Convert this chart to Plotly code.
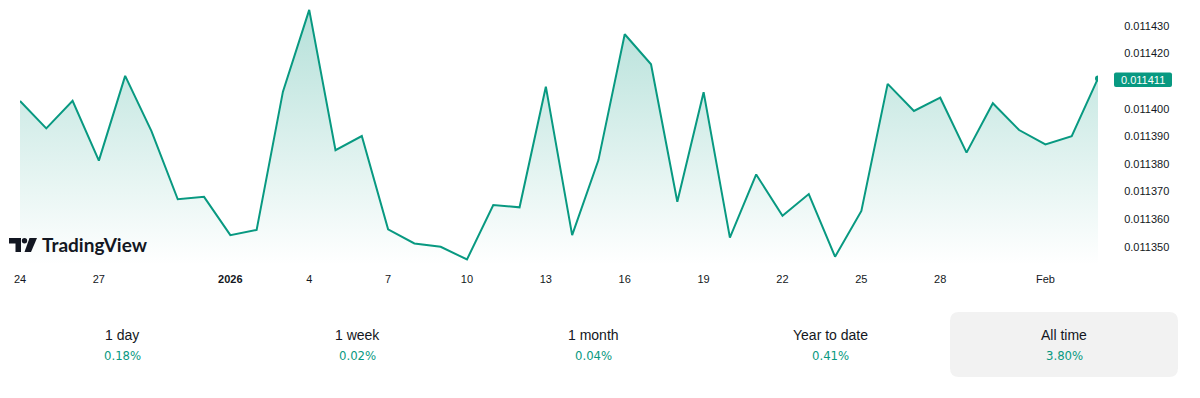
import plotly.graph_objects as go

# ---- data ----
dates = [
    "2025-12-24", "2025-12-25", "2025-12-26", "2025-12-27", "2025-12-28", "2025-12-29",
    "2025-12-30", "2025-12-31", "2026-01-01", "2026-01-02", "2026-01-03", "2026-01-04",
    "2026-01-05", "2026-01-06", "2026-01-07", "2026-01-08", "2026-01-09", "2026-01-10",
    "2026-01-11", "2026-01-12", "2026-01-13", "2026-01-14", "2026-01-15", "2026-01-16",
    "2026-01-17", "2026-01-18", "2026-01-19", "2026-01-20", "2026-01-21", "2026-01-22",
    "2026-01-23", "2026-01-24", "2026-01-25", "2026-01-26", "2026-01-27", "2026-01-28",
    "2026-01-29", "2026-01-30", "2026-01-31", "2026-02-01", "2026-02-02", "2026-02-03",
]
values = [
    0.0114028, 0.0113929, 0.0114029, 0.0113812, 0.0114119, 0.0113919,
    0.0113672, 0.0113681, 0.0113542, 0.0113561, 0.0114062, 0.0114358,
    0.0113850, 0.0113901, 0.0113563, 0.0113512, 0.0113500, 0.0113454,
    0.0113651, 0.0113643, 0.0114080, 0.0113542, 0.0113814, 0.0114270,
    0.0114161, 0.0113663, 0.0114060, 0.0113533, 0.0113762, 0.0113612,
    0.0113691, 0.0113464, 0.0113630, 0.0114090, 0.0113992, 0.0114040,
    0.0113841, 0.0114020, 0.0113923, 0.0113871, 0.0113901, 0.0114110,
]
x_tick_vals = ["2025-12-24", "2025-12-27", "2026-01-01", "2026-01-04", "2026-01-07",
               "2026-01-10", "2026-01-13", "2026-01-16", "2026-01-19", "2026-01-22",
               "2026-01-25", "2026-01-28", "2026-02-01"]
x_tick_text = ["24", "27", "<b>2026</b>", "4", "7", "10", "13", "16", "19", "22",
               "25", "28", "Feb"]
y_tick_vals = [0.011350, 0.011360, 0.011370, 0.011380, 0.011390, 0.011400,
               0.011420, 0.011430]
last_price_label = "0.011411"
stat_labels = ["1 day", "1 week", "1 month", "Year to date", "All time"]
stat_values = ["0.18%", "0.02%", "0.04%", "0.41%", "3.80%"]

# ---- layout helpers (screen pixel -> paper); page body has an 8px margin ----
OFF = 8
W, H = 1200 - OFF, 398 - OFF
def X(px):
    return (px - OFF) / W
def Y(py):
    return 1 - (py - OFF) / H

GREEN = "#089981"
TEXT = "#131722"
# plot area spans screen rows 8..265; range chosen so 0.011350 sits at row ~247
y_lo, y_hi = 0.0113434, 0.0114365

fig = go.Figure()
fig.add_trace(go.Scatter(
    x=dates, y=values, mode="lines",
    line=dict(color=GREEN, width=2),
    fill="tozeroy",
    fillgradient=dict(type="vertical",
                      colorscale=[[0, "rgba(8,153,129,0.0)"], [1, "rgba(8,153,129,0.30)"]],
                      start=y_lo, stop=max(values)),
    hoverinfo="skip", showlegend=False,
))
fig.add_trace(go.Scatter(
    x=[dates[-1]], y=[values[-1]], mode="markers",
    marker=dict(color=GREEN, size=6), hoverinfo="skip", showlegend=False,
))

def rrect(x0, y0, x1, y1, r):
    return (f"M{X(x0+r)},{Y(y0)} L{X(x1-r)},{Y(y0)} Q{X(x1)},{Y(y0)} {X(x1)},{Y(y0+r)} "
            f"L{X(x1)},{Y(y1-r)} Q{X(x1)},{Y(y1)} {X(x1-r)},{Y(y1)} "
            f"L{X(x0+r)},{Y(y1)} Q{X(x0)},{Y(y1)} {X(x0)},{Y(y1-r)} "
            f"L{X(x0)},{Y(y0+r)} Q{X(x0)},{Y(y0)} {X(x0+r)},{Y(y0)} Z")

shapes = []
shapes.append(dict(type="path", xref="paper", yref="paper", path=rrect(950, 312, 1178, 377, 9),
                   fillcolor="#f2f2f2", line=dict(width=0), layer="below"))
shapes.append(dict(type="path", xref="paper", yref="paper", path=rrect(1114, 72.5, 1172, 87, 2),
                   fillcolor=GREEN, line=dict(width=0), layer="above"))
logo_T = (f"M{X(9)},{Y(238)} L{X(21)},{Y(238)} L{X(21)},{Y(252)} L{X(15.5)},{Y(252)} "
          f"L{X(15.5)},{Y(243.5)} L{X(9)},{Y(243.5)} Z")
shapes.append(dict(type="path", xref="paper", yref="paper", path=logo_T,
                   fillcolor=TEXT, line=dict(width=0)))
shapes.append(dict(type="circle", xref="paper", yref="paper",
                   x0=X(21.8), x1=X(27.2), y0=Y(243.4), y1=Y(238),
                   fillcolor=TEXT, line=dict(width=0)))
logo_slash = f"M{X(29.5)},{Y(238)} L{X(37)},{Y(238)} L{X(31)},{Y(252)} L{X(24.5)},{Y(252)} Z"
shapes.append(dict(type="path", xref="paper", yref="paper", path=logo_slash,
                   fillcolor=TEXT, line=dict(width=0)))

annotations = []
annotations.append(dict(xref="paper", yref="paper", x=X(1143), y=Y(80), text=last_price_label,
                        showarrow=False, font=dict(color="white", size=11, family="Liberation Sans"),
                        xanchor="center", yanchor="middle"))
annotations.append(dict(xref="paper", yref="paper", x=X(40), y=Y(245), text="TradingView",
                        showarrow=False, font=dict(color=TEXT, size=19, family="Lato", weight=700),
                        xanchor="left", yanchor="middle"))
stat_x = [122, 357, 593, 830, 1064]
for sx, lab, val in zip(stat_x, stat_labels, stat_values):
    annotations.append(dict(xref="paper", yref="paper", x=X(sx), y=Y(335), text=lab,
                            showarrow=False, font=dict(color=TEXT, size=14, family="Liberation Sans"),
                            xanchor="center", yanchor="middle"))
    annotations.append(dict(xref="paper", yref="paper", x=X(sx), y=Y(355), text=val,
                            showarrow=False, font=dict(color=GREEN, size=13, family="DejaVu Sans Condensed"),
                            xanchor="center", yanchor="middle"))

fig.update_layout(
    width=W, height=H,
    margin=dict(l=0, r=0, t=0, b=0, autoexpand=False),
    paper_bgcolor="white", plot_bgcolor="white",
    xaxis=dict(domain=[X(20), X(1098)], range=[dates[0], dates[-1]],
               tickvals=x_tick_vals, ticktext=x_tick_text, automargin=False,
               showgrid=False, zeroline=False, showline=False,
               ticks="outside", ticklen=4, tickcolor="rgba(0,0,0,0)",
               tickfont=dict(color=TEXT, size=11, family="Liberation Sans")),
    yaxis=dict(domain=[Y(265), 1], range=[y_lo, y_hi], side="right",
               tickvals=y_tick_vals, tickformat=".6f", automargin=False,
               showgrid=False, zeroline=False, showline=False,
               ticks="outside", ticklen=23, tickcolor="rgba(0,0,0,0)",
               tickfont=dict(color=TEXT, size=11, family="Liberation Sans")),
    shapes=shapes, annotations=annotations,
)

fig.write_html("out.html")
